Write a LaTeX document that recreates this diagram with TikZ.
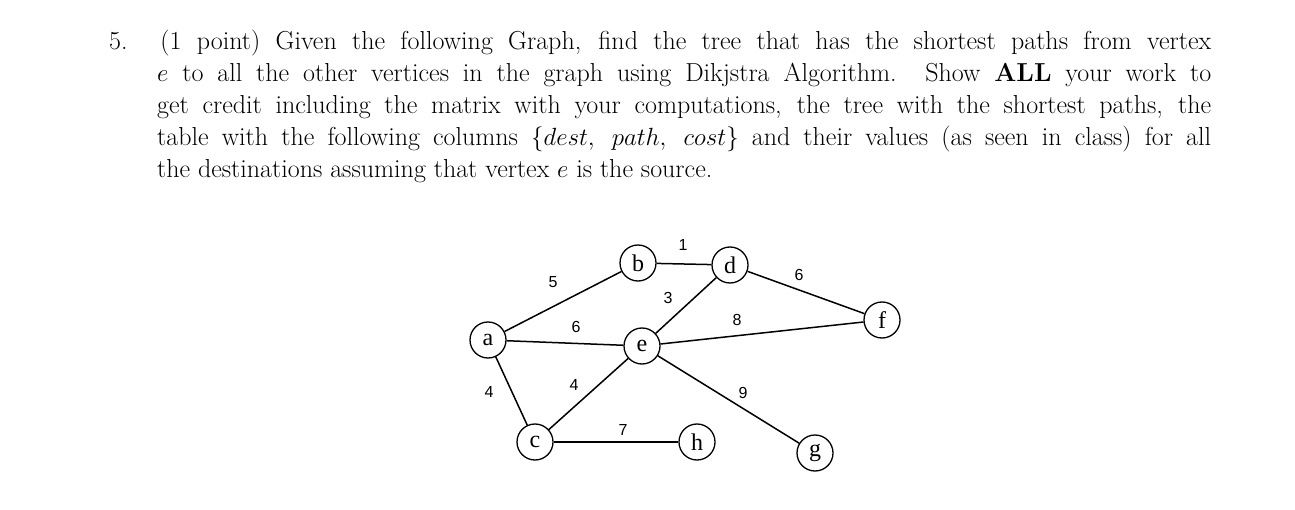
\documentclass[tikz,border=0pt]{standalone}
\usepackage{fontspec}
\newfontfamily\lab{Liberation Sans}
\newfontfamily\vfont{Liberation Serif}
\begin{document}
\begin{tikzpicture}[x=1pt,y=-1pt,
  vert/.style={draw,circle,line width=1.3pt,minimum size=36pt,inner sep=0pt,font=\vfont\fontsize{24}{24}\selectfont},
  edge/.style={line width=1.5pt},
  wt/.style={font=\lab\fontsize{16}{16}\selectfont,inner sep=0pt}]
\useasboundingbox (0,0) rectangle (1295,510);
\node[anchor=north west,inner sep=0pt,text width=1102pt,align=justify] (txt) at (109,30)
{\fontsize{26}{32}\selectfont\hangindent=48pt\hangafter=1
5. (1 point) Given the following Graph, find the tree that has the shortest paths from vertex\linebreak $e$ to all the other vertices in the graph using Dikjstra Algorithm. Show \textbf{ALL} your work to\linebreak get credit including the matrix with your computations, the tree with the shortest paths, the\linebreak table with the following columns $\{dest,\ path,\ cost\}$ and their values (as seen in class) for all\linebreak the destinations assuming that vertex $e$ is the source.\par};
\node[vert] (a) at (488,340) {a};
\node[vert] (b) at (638,263) {b};
\node[vert] (d) at (730,265) {d};
\node[vert] (e) at (642,346) {e};
\node[vert] (f) at (882,320) {f};
\node[vert] (c) at (535,442) {c};
\node[vert] (h) at (697,442) {h};
\node[vert] (g) at (815,453) {g};
\draw[edge] (a)--(b); \draw[edge] (b)--(d); \draw[edge] (d)--(f);
\draw[edge] (d)--(e); \draw[edge] (a)--(e); \draw[edge] (e)--(f);
\draw[edge] (a)--(c); \draw[edge] (c)--(e); \draw[edge] (e)--(g);
\draw[edge] (c)--(h);
\node[wt] (w1) at (683,245) {1};
\node[wt] (w5) at (553,282) {5};
\node[wt] (w3) at (668,298) {3};
\node[wt] (w6a) at (799,275) {6};
\node[wt] (w6b) at (576,327) {6};
\node[wt] (w8) at (737,320) {8};
\node[wt] (w4a) at (489,392) {4};
\node[wt] (w4b) at (574,385) {4};
\node[wt] (w9) at (743,393) {9};
\node[wt] (w7) at (623,430) {7};
\end{tikzpicture}
\end{document}
